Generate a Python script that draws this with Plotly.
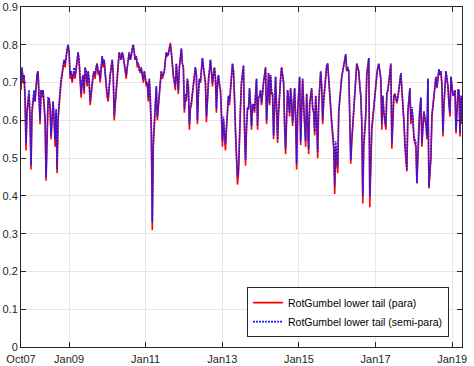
import plotly.graph_objects as go
import pandas as pd

# ---- data ----
start_date = "2007-10-01"
end_date = "2019-04-05"

para = [
    # late 2007 - 2008
    0.68, 0.74, 0.70, 0.72, 0.66, 0.52, 0.62, 0.66, 0.67, 0.60,
    0.47, 0.62, 0.66, 0.67, 0.65, 0.69, 0.72, 0.73, 0.66, 0.59,
    0.68, 0.66, 0.68, 0.64, 0.60, 0.44, 0.55, 0.65, 0.66, 0.63,
    0.55, 0.62, 0.65, 0.60, 0.53, 0.62, 0.46, 0.60, 0.65, 0.67,
    0.70,
    # 2009 - 2010
    0.72, 0.74, 0.76, 0.74, 0.77, 0.79, 0.80, 0.78, 0.71, 0.73,
    0.70, 0.72, 0.73, 0.71, 0.74, 0.76, 0.78, 0.75, 0.71, 0.66,
    0.70, 0.72, 0.67, 0.74, 0.72, 0.69, 0.73, 0.70, 0.64, 0.67,
    0.70, 0.72, 0.73, 0.71, 0.74, 0.75, 0.72, 0.73, 0.70, 0.75,
    0.77, 0.74, 0.76, 0.72, 0.68, 0.66, 0.65, 0.70, 0.72, 0.74,
    0.76, 0.72, 0.60, 0.64, 0.68, 0.70, 0.75, 0.78, 0.77, 0.76,
    0.78,
    0.77, 0.75, 0.72, 0.71, 0.74, 0.76, 0.78, 0.76, 0.77, 0.79, 0.80,
    # 2011 - 2013
    0.78, 0.76, 0.77, 0.74, 0.75, 0.73, 0.725, 0.74, 0.72, 0.70,
    0.73, 0.70, 0.69, 0.70, 0.65, 0.71, 0.66, 0.575, 0.31, 0.53,
    0.58, 0.65, 0.69, 0.60, 0.64, 0.67, 0.70, 0.73, 0.71, 0.72,
    0.73, 0.76, 0.78, 0.77, 0.775, 0.79, 0.805, 0.78, 0.74, 0.715,
    0.70, 0.68, 0.75, 0.71, 0.67, 0.74, 0.77, 0.79, 0.75, 0.74,
    0.62, 0.66, 0.65, 0.71, 0.69, 0.575, 0.63, 0.64, 0.67, 0.70,
    0.72, 0.74, 0.72, 0.59, 0.67, 0.71, 0.70, 0.73, 0.765, 0.74,
    0.72, 0.70, 0.595, 0.66, 0.71, 0.73, 0.76, 0.73, 0.69, 0.72,
    0.74, 0.71, 0.62, 0.70, 0.72, 0.69, 0.68, 0.61, 0.53, 0.60,
    0.57, 0.52, 0.575, 0.63, 0.665, 0.64, 0.68, 0.70, 0.75, 0.73,
    0.66, 0.55, 0.50, 0.43,
    0.46, 0.58, 0.63, 0.70, 0.725,
    # 2013 - 2016
    0.745, 0.575, 0.48, 0.575, 0.63, 0.63, 0.685, 0.64, 0.575, 0.64,
    0.64, 0.62, 0.67, 0.71, 0.575, 0.66, 0.665, 0.68, 0.64, 0.685,
    0.70, 0.72, 0.74, 0.59, 0.68, 0.725, 0.64, 0.72, 0.67, 0.67,
    0.55, 0.67, 0.715, 0.63, 0.54, 0.62, 0.68, 0.71, 0.74, 0.71,
    0.70, 0.58, 0.51, 0.60, 0.68, 0.65, 0.61, 0.685, 0.65, 0.585,
    0.64, 0.685, 0.60, 0.47, 0.62, 0.68, 0.715, 0.535, 0.64, 0.71,
    0.64, 0.575, 0.53, 0.67, 0.58, 0.51, 0.64, 0.66, 0.685, 0.63,
    0.62, 0.56, 0.665, 0.60, 0.50, 0.64, 0.70, 0.73, 0.69, 0.59,
    0.65, 0.68, 0.71, 0.745, 0.75, 0.70, 0.68, 0.63, 0.59, 0.56,
    0.525, 0.405, 0.53, 0.49, 0.46, 0.62, 0.66, 0.70, 0.715, 0.73,
    0.745, 0.76, 0.775, 0.73, 0.74,
    # 2016 - 2019
    0.73, 0.60, 0.485, 0.54, 0.58, 0.63, 0.68, 0.71, 0.75, 0.74,
    0.73, 0.69, 0.665, 0.59, 0.38, 0.53, 0.58, 0.61, 0.72, 0.74,
    0.765, 0.37, 0.50, 0.575, 0.60, 0.635, 0.665, 0.69, 0.725, 0.74,
    0.75, 0.73, 0.71, 0.575, 0.665, 0.62, 0.60, 0.575, 0.67, 0.68,
    0.70, 0.73, 0.75, 0.525, 0.60, 0.665, 0.67, 0.66, 0.645, 0.66,
    0.68, 0.70, 0.725, 0.68, 0.64, 0.60, 0.53, 0.50, 0.465, 0.62,
    0.66, 0.685, 0.59, 0.63, 0.60, 0.55, 0.54, 0.53, 0.433, 0.52,
    0.59, 0.63, 0.66, 0.53, 0.58, 0.62, 0.60, 0.59, 0.55, 0.71,
    0.42, 0.46, 0.50, 0.61, 0.64, 0.665, 0.69, 0.715, 0.685, 0.71,
    0.735, 0.72, 0.73, 0.69, 0.557, 0.64, 0.69, 0.73, 0.71, 0.69,
    0.64, 0.61, 0.715, 0.69, 0.665, 0.67, 0.68, 0.565, 0.62, 0.68,
    0.68, 0.557, 0.665, 0.59,
]

semi = [
    0.69, 0.74, 0.71, 0.72, 0.67, 0.54, 0.63, 0.66, 0.68, 0.61,
    0.48, 0.63, 0.66, 0.68, 0.65, 0.70, 0.72, 0.73, 0.67, 0.60,
    0.68, 0.67, 0.68, 0.65, 0.61, 0.45, 0.56, 0.66, 0.66, 0.64,
    0.56, 0.63, 0.65, 0.61, 0.55, 0.63, 0.47, 0.61, 0.66, 0.68,
    0.71,
    0.73, 0.75, 0.76, 0.75, 0.77, 0.79, 0.80, 0.78, 0.72, 0.73,
    0.71, 0.72, 0.74, 0.72, 0.74, 0.76, 0.78, 0.76, 0.72, 0.67,
    0.71, 0.72, 0.68, 0.74, 0.73, 0.70, 0.73, 0.71, 0.65, 0.68,
    0.70, 0.72, 0.73, 0.72, 0.74, 0.75, 0.73, 0.73, 0.71, 0.75,
    0.77, 0.75, 0.76, 0.73, 0.69, 0.67, 0.66, 0.70, 0.72, 0.74,
    0.76, 0.73, 0.61, 0.65, 0.68, 0.71, 0.75, 0.78, 0.77, 0.76,
    0.78,
    0.77, 0.75, 0.73, 0.72, 0.74, 0.76, 0.78, 0.76, 0.77, 0.79, 0.80,
    0.78, 0.76, 0.77, 0.75, 0.75, 0.73, 0.73, 0.74, 0.72, 0.71,
    0.73, 0.71, 0.70, 0.70, 0.66, 0.71, 0.67, 0.59, 0.33, 0.55,
    0.59, 0.66, 0.69, 0.61, 0.65, 0.67, 0.70, 0.73, 0.72, 0.72,
    0.73, 0.76, 0.78, 0.77, 0.775, 0.79, 0.80, 0.78, 0.74, 0.72,
    0.71, 0.69, 0.75, 0.72, 0.68, 0.74, 0.77, 0.79, 0.75, 0.74,
    0.63, 0.67, 0.66, 0.71, 0.69, 0.59, 0.64, 0.65, 0.67, 0.70,
    0.72, 0.74, 0.72, 0.60, 0.67, 0.71, 0.70, 0.73, 0.765, 0.74,
    0.72, 0.70, 0.61, 0.66, 0.71, 0.73, 0.76, 0.73, 0.70, 0.72,
    0.74, 0.71, 0.63, 0.70, 0.72, 0.70, 0.68, 0.62, 0.545, 0.61,
    0.58, 0.535, 0.585, 0.63, 0.665, 0.65, 0.68, 0.70, 0.75, 0.73,
    0.67, 0.56, 0.515, 0.45,
    0.47, 0.59, 0.64, 0.70, 0.725,
    0.745, 0.59, 0.495, 0.585, 0.635, 0.63, 0.685, 0.645, 0.585, 0.64,
    0.645, 0.625, 0.67, 0.71, 0.585, 0.66, 0.665, 0.68, 0.645, 0.685,
    0.70, 0.72, 0.74, 0.60, 0.68, 0.725, 0.645, 0.72, 0.675, 0.67,
    0.56, 0.67, 0.715, 0.635, 0.55, 0.625, 0.68, 0.71, 0.74, 0.71,
    0.70, 0.59, 0.525, 0.61, 0.68, 0.655, 0.62, 0.685, 0.655, 0.595,
    0.645, 0.685, 0.61, 0.485, 0.625, 0.68, 0.715, 0.545, 0.645, 0.71,
    0.645, 0.585, 0.545, 0.67, 0.59, 0.525, 0.645, 0.66, 0.685, 0.635,
    0.625, 0.57, 0.665, 0.61, 0.515, 0.645, 0.70, 0.73, 0.69, 0.60,
    0.655, 0.68, 0.71, 0.745, 0.75, 0.70, 0.68, 0.635, 0.60, 0.57,
    0.54, 0.425, 0.545, 0.505, 0.475, 0.625, 0.66, 0.70, 0.715, 0.73,
    0.745, 0.76, 0.775, 0.73, 0.74,
    0.73, 0.61, 0.495, 0.55, 0.59, 0.635, 0.68, 0.71, 0.75, 0.74,
    0.73, 0.695, 0.665, 0.60, 0.40, 0.545, 0.59, 0.62, 0.72, 0.74,
    0.765, 0.40, 0.52, 0.585, 0.61, 0.64, 0.665, 0.69, 0.725, 0.74,
    0.75, 0.73, 0.71, 0.59, 0.665, 0.625, 0.61, 0.585, 0.67, 0.68,
    0.70, 0.73, 0.75, 0.54, 0.61, 0.665, 0.67, 0.66, 0.65, 0.66,
    0.68, 0.70, 0.725, 0.685, 0.645, 0.605, 0.54, 0.51, 0.468, 0.625,
    0.66, 0.685, 0.60, 0.635, 0.61, 0.56, 0.55, 0.54, 0.435, 0.53,
    0.60, 0.635, 0.66, 0.54, 0.59, 0.625, 0.61, 0.60, 0.56, 0.71,
    0.422, 0.47, 0.51, 0.615, 0.645, 0.665, 0.69, 0.715, 0.69, 0.71,
    0.735, 0.72, 0.73, 0.695, 0.57, 0.645, 0.69, 0.73, 0.71, 0.69,
    0.645, 0.62, 0.715, 0.69, 0.665, 0.67, 0.68, 0.575, 0.625, 0.68,
    0.68, 0.567, 0.665, 0.60,
]

x_tick_dates = ["2007-10-01", "2009-01-01", "2011-01-01", "2013-01-01",
                "2015-01-01", "2017-01-01", "2019-01-01"]
x_tick_labels = ["Oct07", "Jan09", "Jan11", "Jan13", "Jan15", "Jan17", "Jan19"]
y_tick_vals = [0, 0.1, 0.2, 0.3, 0.4, 0.5, 0.6, 0.7, 0.8, 0.9]
y_tick_labels = ["0", "0.1", "0.2", "0.3", "0.4", "0.5", "0.6", "0.7", "0.8", "0.9"]

series_names = ["RotGumbel lower tail (para)", "RotGumbel lower tail (semi-para)"]

assert len(para) == len(semi), (len(para), len(semi))

dates = pd.date_range(start_date, end_date, periods=len(para))

AX = "#262626"
FONT = "Liberation Sans, Arial, Helvetica, sans-serif"

fig = go.Figure()
fig.add_trace(go.Scatter(x=dates, y=para, mode="lines", name=series_names[0],
                         line=dict(color="#ff0000", width=1.6)))
fig.add_trace(go.Scatter(x=dates, y=semi, mode="lines", name=series_names[1],
                         line=dict(color="#1a1aff", width=1.6, dash="2px,1px")))

axis_common = dict(
    showgrid=True, gridcolor="#e6e6e6", gridwidth=1,
    showline=True, linecolor=AX, linewidth=1, mirror="ticks",
    ticks="inside", ticklen=5, tickcolor=AX, tickwidth=1,
    tickfont=dict(family=FONT, size=11, color=AX),
    zeroline=False, automargin=False,
)

fig.update_layout(
    width=474, height=366,
    margin=dict(l=21, r=12, t=7, b=19),
    paper_bgcolor="white", plot_bgcolor="white",
    font=dict(family=FONT, size=11, color=AX),
    showlegend=True,
    legend=dict(
        x=0.9705, y=0.029, xanchor="right", yanchor="bottom",
        bgcolor="white", bordercolor=AX, borderwidth=1,
        font=dict(family=FONT, size=10.5, color="#000000"),
        tracegroupgap=0, itemwidth=30,
    ),
    xaxis=dict(range=[dates[0], dates[-1]], tickvals=x_tick_dates,
               ticktext=x_tick_labels, ticklabelstandoff=2, **axis_common),
    yaxis=dict(range=[0, 0.9], tickvals=y_tick_vals, ticktext=y_tick_labels,
               **axis_common),
)

fig.write_html("out.html",
               config={"displayModeBar": False},
               post_script="document.body.style.margin='0';"
                           "document.body.style.overflow='hidden';")
